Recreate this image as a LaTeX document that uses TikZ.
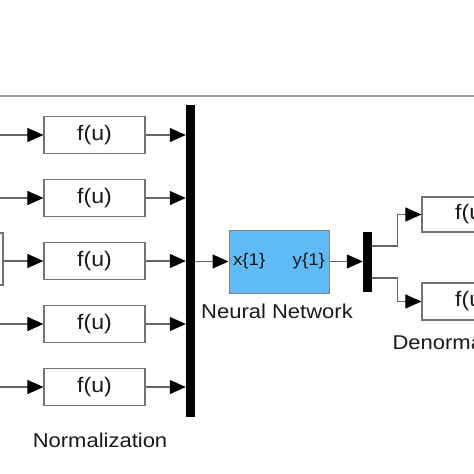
\documentclass[tikz,border=0pt]{standalone}
\usepackage{fontspec}
\setmainfont[FakeStretch=1.1]{Liberation Sans}
\usetikzlibrary{arrows.meta,positioning}
\definecolor{nnblue}{RGB}{96,186,245}

\begin{document}
\begin{tikzpicture}[x=1pt,y=-1pt,
    fbox/.style={draw=black!55, line width=1.2pt, minimum width=101pt, minimum height=37pt, inner sep=0pt, font=\fontsize{21}{23}\selectfont, text=black!90},
    conn/.style={draw=black!60, line width=1.1pt, -{Triangle[length=16pt,width=14pt,color=black]}},
    bar/.style={fill=black, minimum width=9pt, inner sep=0pt},
    lbl/.style={font=\fontsize{20}{22}\selectfont, text=black!90}]
    \clip (0,0) rectangle (474,474);
    \draw[black!40, line width=2pt] (0,96) -- (474,96);

    % normalization rows
    \foreach \i/\y in {1/135,2/198,3/261,4/324,5/387} {
        \node[fbox] (norm\i) at (94.5,\y) {f(u)};
        \coordinate (in\i) at (0,\y);
    }
    \node[bar, minimum height=312pt] (mux) at (190.5,261) {};
    \foreach \i in {1,...,5} \draw[conn] (norm\i.east) -- (norm\i.east -| mux.west);
    \foreach \i in {1,2,4,5} \draw[conn] (in\i) -- (norm\i.west);
    \node[draw=black!55, line width=1.2pt, minimum width=23pt, minimum height=52pt] (src) at (-8.5,259) {};
    \draw[conn] (src.east |- norm3) -- (norm3.west);
    \node[lbl] (normlbl) at (100,440) {Normalization};

    % network
    \node[draw=black!50, line width=1pt, fill=nnblue, minimum width=100pt, minimum height=63pt] (net) at (279,261.5) {};
    \node[lbl, font=\fontsize{17}{19}\selectfont, anchor=west] (netin) at ([xshift=1pt]net.west) {x\{1\}};
    \node[lbl, font=\fontsize{17}{19}\selectfont, anchor=east] (netout) at ([xshift=-1pt]net.east) {y\{1\}};
    \draw[conn] (net.west -| mux.east) -- (net.west);
    \node[lbl] (netlbl) at (277,311) {Neural Network};

    % denormalization
    \node[bar, minimum height=60pt] (demux) at (367.5,262) {};
    \draw[conn] (net.east) -- (net.east -| demux.west);
    \node[fbox, minimum height=35pt] (den1) at (472.5,214.5) {f(u)};
    \node[fbox, minimum height=37pt] (den2) at (472.5,301.5) {f(u)};
    \draw[conn] ([yshift=16pt]demux.east) -- ++(25,0) |- (den1.west);
    \draw[conn] ([yshift=-16pt]demux.east) -- ++(25,0) |- (den2.west);
    \node[lbl] (denlbl) at (472,342) {Denormalization};
\end{tikzpicture}
\end{document}
